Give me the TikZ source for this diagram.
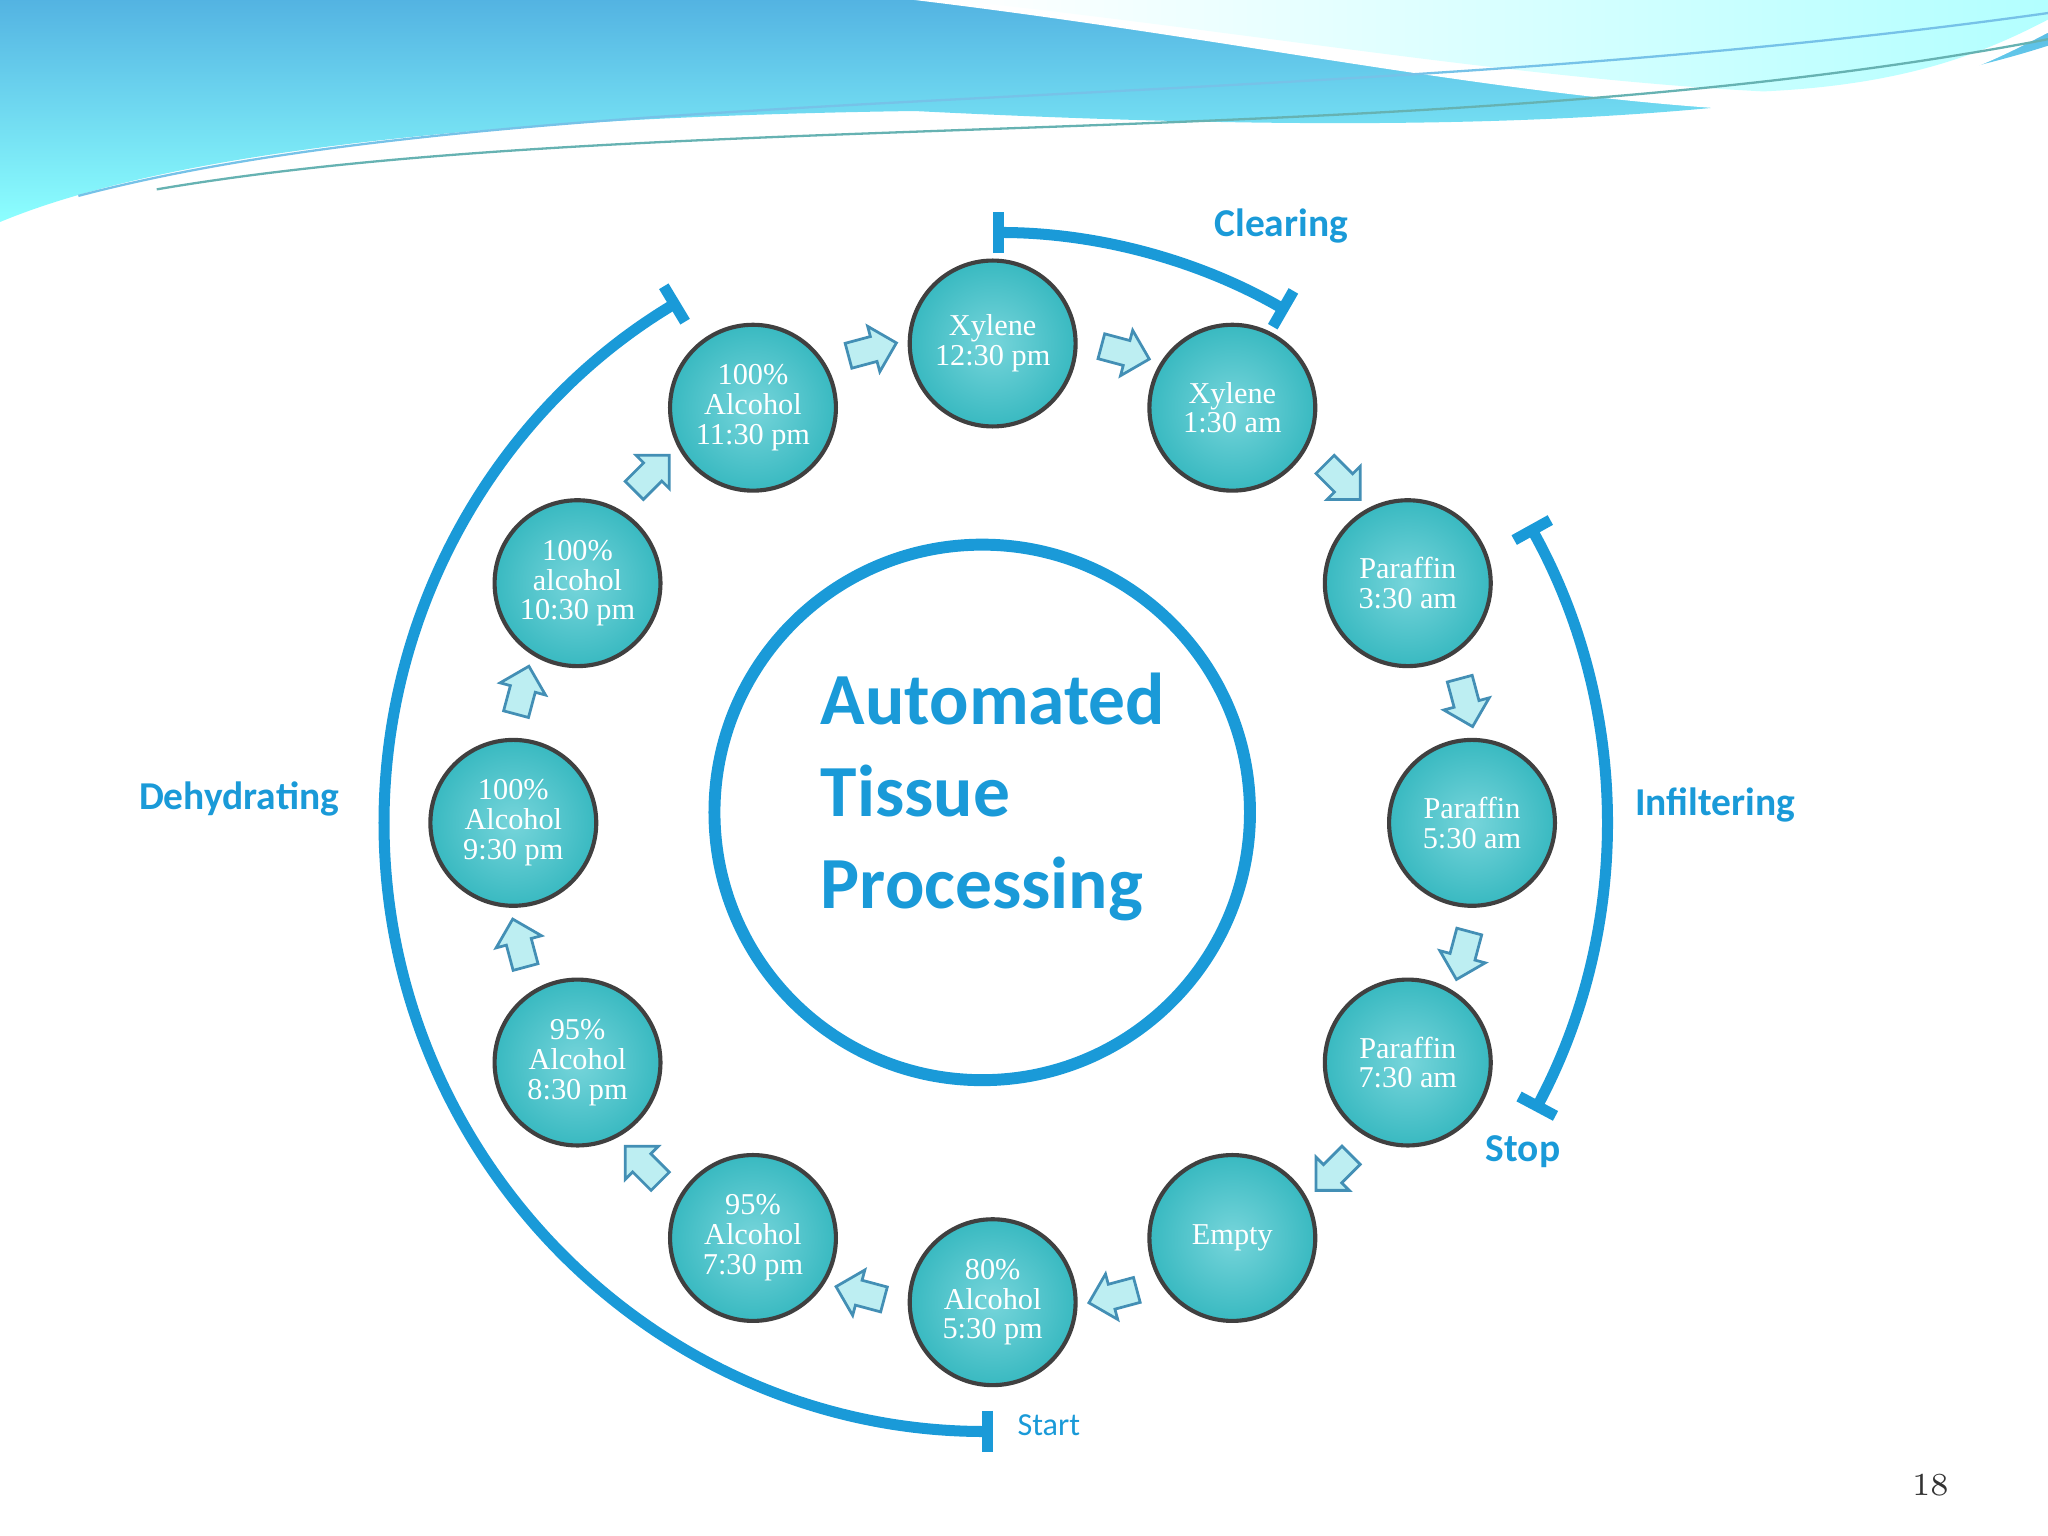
\documentclass[tikz,border=0pt]{standalone}
\usepackage{fontspec}
\newfontfamily\lblfont{Carlito}
\newfontfamily\ballfont{Liberation Serif}
\usetikzlibrary{shapes.arrows, arrows.meta, positioning}
\definecolor{ringblue}{HTML}{1A9AD8}
\definecolor{ballteal}{HTML}{3CC3CB}
\definecolor{stepcyan}{HTML}{BDEEF2}
\begin{document}
\begin{tikzpicture}[>=Stealth]
	\tikzset{
		stage/.style={circle, minimum size=1.27cm, draw=black!75, line width=0.9pt,
			inner color=ballteal!70, outer color=ballteal!95!black, text=white,
			align=center, font=\ballfont\fontsize{6.6}{6.5}\selectfont, inner sep=0pt},
		flow/.style={single arrow, draw=ringblue!60!gray, fill=stepcyan, line width=0.6pt,
			minimum height=0.38cm, minimum width=0.36cm, single arrow head extend=0.05cm, inner sep=0.05cm},
		phase/.style={draw=ringblue, line width=2.4pt, {Bar[width=9pt]}-{Bar[width=9pt]}},
		tag/.style={text=ringblue, font=\lblfont\bfseries\fontsize{8.6}{10}\selectfont}
	}
	\useasboundingbox (0,0) rectangle (15.68,-11.76);
	% header waves
	\shade[top color=ringblue!75, bottom color=cyan!45!white] (0,0) -- (15.68,0) -- (15.68,-0.35)
		.. controls (13.5,-1.05) and (10,-1.0) .. (7,-0.85) .. controls (3.5,-0.9) and (1.2,-1.2) .. (0,-1.7) -- cycle;
	\fill[white] (7.0,0) .. controls (9.5,-0.3) and (11.5,-0.75) .. (13.5,-0.85)
		.. controls (14.6,-0.8) and (15.2,-0.5) .. (15.68,-0.25) -- (15.68,0) -- cycle;
	\shade[left color=white, right color=cyan!30] (7.3,0) .. controls (9.6,-0.25) and (11.6,-0.6) .. (13.5,-0.7)
		.. controls (14.6,-0.65) and (15.2,-0.4) .. (15.68,-0.15) -- (15.68,0) -- cycle;
	\draw[ringblue!60, line width=0.5pt] (0.6,-1.5) .. controls (4,-0.6) and (10,-0.9) .. (15.68,-0.1);
	\draw[teal!60, line width=0.5pt] (1.2,-1.45) .. controls (5,-0.8) and (11,-1.2) .. (15.68,-0.3);
	% centre
	\draw[ringblue, line width=2.6pt] (7.52,-6.22) circle (2.05);
	\node[anchor=west, align=left, text=ringblue, font=\lblfont\bfseries\fontsize{16}{20}\selectfont] (title) at (6.16,-6.1) {Automated\\Tissue\\Processing};
	\begin{scope}[shift={(7.6,-6.3)}]
		\foreach \txt [count=\i] in {{Xylene\\12:30 pm}, {Xylene\\1:30 am}, {Paraffin\\3:30 am},
			{Paraffin\\5:30 am}, {Paraffin\\7:30 am}, {Empty}, {80\%\\Alcohol\\5:30 pm},
			{95\%\\Alcohol\\7:30 pm}, {95\%\\Alcohol\\8:30 pm}, {100\%\\Alcohol\\9:30 pm},
			{100\%\\alcohol\\10:30 pm}, {100\%\\Alcohol\\11:30 pm}}
		{
			\node[stage] (s\i) at ({120-30*\i}:3.67) {\txt};
			\node[flow, rotate={15-30*\i}] (f\i) at ({105-30*\i}:3.74) {};
		}
		% phase brackets
		\draw[phase] (270:4.66) arc[start angle=270, end angle=121, radius=4.66];
		\draw[phase] (90:4.52) arc[start angle=90, end angle=60, radius=4.52];
		\draw[phase] (29:4.7) arc[start angle=29, end angle=-28, radius=4.7];
	\end{scope}
	\node[tag] (clear) at (9.81,-1.73) {Clearing};
	\node[tag] (infil) at (13.13,-6.16) {Infiltering};
	\node[tag] (dehyd) at (1.83,-6.12) {Dehydrating};
	\node[tag] (stop) at (11.66,-8.82) {Stop};
	\node[text=ringblue, font=\lblfont\fontsize{7}{8}\selectfont] (start) at (8.03,-10.91) {Start};
	\node[text=black!80, font=\fontsize{7}{8}\selectfont] (page) at (14.78,-11.37) {18};
\end{tikzpicture}
\end{document}
